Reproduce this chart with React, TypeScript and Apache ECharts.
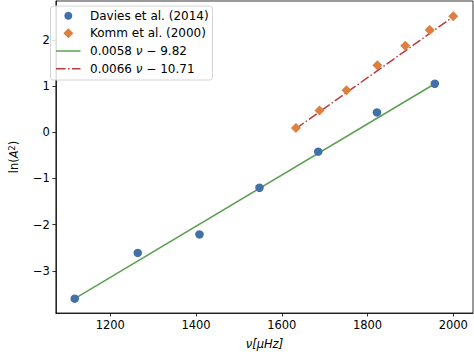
import React, { useEffect, useRef } from "react";
import * as echarts from "echarts";

const daviesNu = [1117, 1264, 1408, 1548, 1685, 1822, 1957];
const daviesLnA2 = [-3.6, -2.61, -2.21, -1.2, -0.42, 0.43, 1.05];
const kommNu = [1633, 1688, 1751, 1823, 1888, 1945, 2000];
const kommLnA2 = [0.09, 0.47, 0.91, 1.45, 1.87, 2.21, 2.51];
const fitDaviesNu = [1117, 1957];
const fitDaviesLnA2 = [-3.6, 1.05];
const fitKommNu = [1633, 2000];
const fitKommLnA2 = [0.08, 2.5];
const xTicks = [1200, 1400, 1600, 1800, 2000];
const yTicks = [-3, -2, -1, 0, 1, 2];
const seriesNames = ["Davies et al. (2014)", "Komm et al. (2000)", "0.0058 ν − 9.82", "0.0066 ν − 10.71"];

const FONT = "DejaVu Sans";
const BLUE = "#4270AA";
const ORANGE = "#DE7F3E";
const GREEN = "#5BA050";
const RED = "#BC3A3E";
const pair = (xs: number[], ys: number[]) => xs.map((x, i) => [x, ys[i]]);

function legendText(name: string) {
  if (name.includes("ν")) {
    const [a, b] = name.split("ν");
    return `{t|${a}}{i|ν}{t|${b}}`;
  }
  return `{t|${name}}`;
}

export default function App() {
  const ref = useRef<HTMLDivElement>(null);
  useEffect(() => {
    if (!ref.current) return;
    const chart = echarts.init(ref.current, null, { renderer: "svg" });
    const axisCommon = {
      axisLine: { show: true, onZero: false, lineStyle: { color: "#000", width: 0.8 } },
      axisTick: { show: true, inside: false, length: 3.5, lineStyle: { color: "#000", width: 0.8 } },
      splitLine: { show: false },
    };
    const rich = {
      t: { fontFamily: FONT, fontSize: 12, fill: "#000", color: "#000" },
      i: { fontFamily: FONT, fontSize: 12, fontStyle: "italic", fill: "#000", color: "#000" },
    };
    const rowY = [15.7, 33.3, 51, 68.7];
    const legendGraphics: any[] = [
      {
        type: "rect",
        shape: { x: 50.5, y: 6, width: 162, height: 74, r: 3 },
        style: { fill: "rgba(255,255,255,0.85)", stroke: "#d4d4d4", lineWidth: 1 },
        z: 100,
      },
      {
        type: "circle",
        shape: { cx: 68.3, cy: rowY[0], r: 4 },
        style: { fill: BLUE },
        z: 101,
      },
      {
        type: "polygon",
        shape: { points: [[68.3, rowY[1] - 5], [73.3, rowY[1]], [68.3, rowY[1] + 5], [63.3, rowY[1]]] },
        style: { fill: ORANGE },
        z: 101,
      },
      {
        type: "line",
        shape: { x1: 56, y1: rowY[2], x2: 80.5, y2: rowY[2] },
        style: { stroke: GREEN, lineWidth: 1.5 },
        z: 101,
      },
      {
        type: "line",
        shape: { x1: 56, y1: rowY[3], x2: 80.5, y2: rowY[3] },
        style: { stroke: RED, lineWidth: 1.5, lineDash: [9.6, 2.4, 1.5, 2.4] },
        z: 101,
      },
      ...seriesNames.map((n, k) => ({
        type: "text",
        x: 90,
        y: rowY[k],
        style: { text: legendText(n), rich, verticalAlign: "middle", align: "left" },
        z: 101,
      })),
    ];
    chart.setOption({
      animation: false,
      backgroundColor: "#fff",
      grid: { left: 45, right: 1, top: 1, bottom: 37, show: true, borderColor: "#000", borderWidth: 0.8, containLabel: false },
      xAxis: {
        type: "value",
        min: 1073,
        max: 2046,
        ...axisCommon,
        axisTick: { ...axisCommon.axisTick, customValues: xTicks },
        axisLabel: {
          customValues: xTicks,
          color: "#000",
          fontFamily: FONT,
          fontSize: 11.5,
          margin: 6,
          formatter: (v: number) => String(v),
        },
        name: "{i|ν[μHz]}",
        nameLocation: "middle",
        nameGap: 25,
        nameTextStyle: { rich: { i: { fontFamily: FONT, fontSize: 11.5, fontStyle: "italic", color: "#000" } } },
      },
      yAxis: {
        type: "value",
        min: -3.91,
        max: 2.84,
        ...axisCommon,
        axisTick: { ...axisCommon.axisTick, customValues: yTicks },
        axisLabel: {
          customValues: yTicks,
          color: "#000",
          fontFamily: FONT,
          fontSize: 11.5,
          margin: 6,
          formatter: (v: number) => String(v).replace("-", "\u2212"),
        },
        name: "{n|ln(}{i|A}{s|2}{n|)}",
        nameLocation: "middle",
        nameGap: 34,
        nameTextStyle: {
          rich: {
            n: { fontFamily: FONT, fontSize: 11.5, color: "#000" },
            i: { fontFamily: FONT, fontSize: 11.5, fontStyle: "italic", color: "#000" },
            s: { fontFamily: FONT, fontSize: 8, color: "#000", verticalAlign: "top", lineHeight: 8, padding: [0, 0, 6, 0] },
          },
        },
      },
      graphic: legendGraphics,
      series: [
        {
          name: seriesNames[2],
          type: "line",
          data: pair(fitDaviesNu, fitDaviesLnA2),
          symbol: "none",
          lineStyle: { color: GREEN, width: 1.5 },
          itemStyle: { color: GREEN },
          z: 2,
        },
        {
          name: seriesNames[3],
          type: "line",
          data: pair(fitKommNu, fitKommLnA2),
          symbol: "none",
          lineStyle: { color: RED, width: 1.5, type: [9.6, 2.4, 1.5, 2.4] },
          itemStyle: { color: RED },
          z: 2,
        },
        {
          name: seriesNames[0],
          type: "scatter",
          data: pair(daviesNu, daviesLnA2),
          symbol: "circle",
          symbolSize: 8.5,
          itemStyle: { color: BLUE, opacity: 1 },
          z: 3,
        },
        {
          name: seriesNames[1],
          type: "scatter",
          data: pair(kommNu, kommLnA2),
          symbol: "diamond",
          symbolSize: [10, 10],
          itemStyle: { color: ORANGE, opacity: 1 },
          z: 3,
        },
      ],
    });
    return () => chart.dispose();
  }, []);
  return <div ref={ref} style={{ width: 474, height: 355, position: "absolute", left: 0, top: 0 }} />;
}
